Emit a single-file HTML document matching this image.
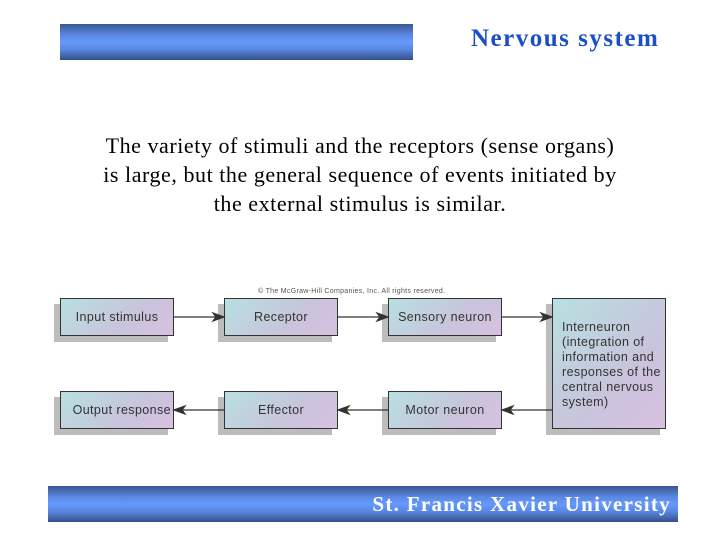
<!DOCTYPE html>
<html><head><style>
body{margin:0;width:720px;height:540px;background:#fff;position:relative;overflow:hidden;font-family:"Liberation Serif",serif}
.bar{position:absolute;background:linear-gradient(#3a5590 0%,#5a88e0 30%,#6699ff 50%,#5a88e0 70%,#34508a 100%)}
.sh{position:absolute;background:#bcbcbc}
.bx{position:absolute;border:1px solid #333;background:linear-gradient(135deg,#b8e0e0,#c8c4dc 60%,#d8c0e0);font-family:"Liberation Sans",sans-serif;font-size:12.5px;letter-spacing:0.4px;color:#333;box-sizing:border-box;display:flex;align-items:center;justify-content:center;white-space:nowrap}
</style></head><body>
<div class="bar" style="left:60px;top:24px;width:353px;height:36px"></div>
<div style="position:absolute;left:471px;top:25px;font-size:25px;font-weight:bold;color:#1a4fc8;letter-spacing:1.5px">Nervous system</div>
<div style="position:absolute;left:40px;top:131px;width:640px;text-align:center;font-size:22px;letter-spacing:0.55px;line-height:29px;color:#000">The variety of stimuli and the receptors (sense organs)<br>is large, but the general sequence of events initiated by<br>the external stimulus is similar.</div>
<div style="position:absolute;left:258px;top:288px;font-family:'Liberation Sans',sans-serif;font-size:7px;letter-spacing:0.3px;color:#555">© The McGraw-Hill Companies, Inc. All rights reserved.</div>

<div class="sh" style="left:54px;top:304px;width:114px;height:38px"></div>
<div class="sh" style="left:218px;top:304px;width:114px;height:38px"></div>
<div class="sh" style="left:382px;top:304px;width:114px;height:38px"></div>
<div class="sh" style="left:546px;top:304px;width:114px;height:131px"></div>
<div class="sh" style="left:54px;top:397px;width:114px;height:38px"></div>
<div class="sh" style="left:218px;top:397px;width:114px;height:38px"></div>
<div class="sh" style="left:382px;top:397px;width:114px;height:38px"></div>

<div class="bx" style="left:60px;top:298px;width:114px;height:38px">Input stimulus</div>
<div class="bx" style="left:224px;top:298px;width:114px;height:38px">Receptor</div>
<div class="bx" style="left:388px;top:298px;width:114px;height:38px">Sensory neuron</div>
<div class="bx" style="left:552px;top:298px;width:114px;height:131px;align-items:flex-start;justify-content:flex-start;padding:21px 0 0 9px;line-height:15px">Interneuron<br>(integration of<br>information and<br>responses of the<br>central nervous<br>system)</div>
<div class="bx" style="left:60px;top:391px;width:114px;height:38px;justify-content:flex-end;padding-right:2px">Output response</div>
<div class="bx" style="left:224px;top:391px;width:114px;height:38px">Effector</div>
<div class="bx" style="left:388px;top:391px;width:114px;height:38px">Motor neuron</div>

<svg width="720" height="540" style="position:absolute;left:0;top:0">
<g stroke="#333" stroke-width="1.2" fill="#333">
<line x1="174" y1="317" x2="218" y2="317"/><path d="M224 317 L213 313 L216 317 L213 321Z"/>
<line x1="338" y1="317" x2="382" y2="317"/><path d="M388 317 L377 313 L380 317 L377 321Z"/>
<line x1="502" y1="317" x2="546" y2="317"/><path d="M552 317 L541 313 L544 317 L541 321Z"/>
<line x1="552" y1="410" x2="508" y2="410"/><path d="M502 410 L513 406 L510 410 L513 414Z"/>
<line x1="388" y1="410" x2="344" y2="410"/><path d="M338 410 L349 406 L346 410 L349 414Z"/>
<line x1="224" y1="410" x2="180" y2="410"/><path d="M174 410 L185 406 L182 410 L185 414Z"/>
</g></svg>

<div class="bar" style="left:48px;top:486px;width:630px;height:36px"></div>
<div style="position:absolute;right:49px;top:492px;font-size:21px;font-weight:bold;color:#fff;letter-spacing:1.3px">St. Francis Xavier University</div>
</body></html>
